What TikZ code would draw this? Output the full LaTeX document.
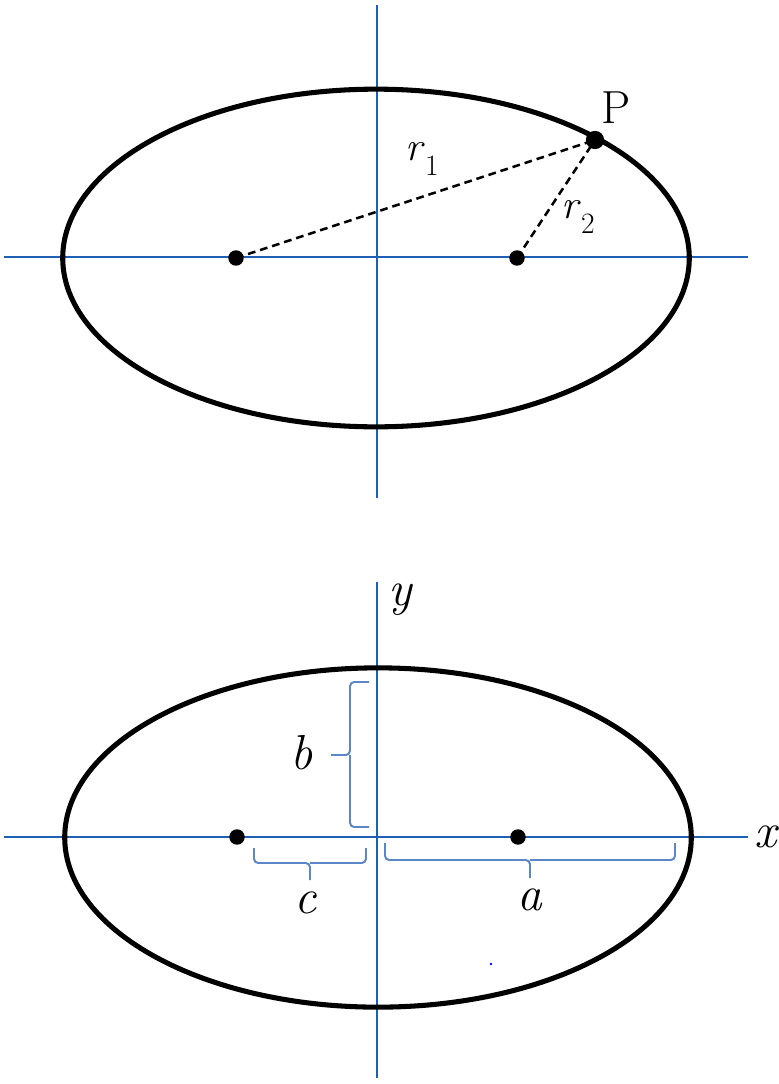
\documentclass[tikz,border=0pt]{standalone}
\usepackage{fontspec}
\usetikzlibrary{positioning}
\definecolor{axisblue}{HTML}{1F5FB4}
\definecolor{braceblue}{HTML}{5B87C8}
\tikzset{
  axis/.style={axisblue, line width=1.5pt},
  curve/.style={black, line width=3.6pt},
  radius line/.style={dash pattern=on 5.5pt off 3.5pt, line width=1.8pt},
  brace/.style={braceblue, line width=1.4pt, rounded corners=3pt},
  lbl/.style={font=\fontsize{35}{40}\selectfont\itshape, inner sep=0pt},
  sublbl/.style={font=\fontsize{29}{33}\selectfont, inner sep=0pt},
}
\newcommand{\subone}[1]{\emph{r}\raisebox{-0.35em}{\fontsize{21}{23}\selectfont #1}}
\begin{document}
\begin{tikzpicture}[x=0.025cm, y=-0.025cm]
\useasboundingbox (0,0) rectangle (778,1084);

% upper ellipse
\draw[axis] (4,257) -- (748,257); % major axis
\draw[axis] (377,5) -- (377,498); % minor axis
\draw[curve] (376,258) ellipse [x radius=7.83cm, y radius=4.22cm]; % ellipse

\coordinate (F1) at (236,258); % left focus
\coordinate (F2) at (517,258); % right focus
\coordinate (P) at (595,140); % point P
\draw[radius line] (F1) -- (P); % r1
\draw[radius line] (F2) -- (P); % r2
\fill (F1) circle [radius=5.5pt];
\fill (F2) circle [radius=5.5pt];
\fill (P) circle [radius=6.5pt];

\node[lbl, font=\fontsize{33}{38}\selectfont] (Plbl) at (616,108) {P}; % P's label
\node[sublbl] (rone) at (422,159) {\subone{1}}; % r1's label
\node[sublbl] (rtwo) at (578,217) {\subone{2}}; % r2's label

% lower ellipse
\draw[axis] (4,837) -- (748,837); % x axis
\draw[axis] (377,582) -- (377,1078); % y axis
\draw[curve] (378,837.5) ellipse [x radius=7.83cm, y radius=4.24cm]; % ellipse

\coordinate (G1) at (237,837); % left focus
\coordinate (G2) at (518,837); % right focus
\fill (G1) circle [radius=5.5pt];
\fill (G2) circle [radius=5.5pt];

\draw[brace] (369,682) -- (350,682) -- (350,755) -- (331,755); % brace b (top)
\draw[brace] (350,755) -- (350,827) -- (369,827); % brace b (bottom)
\draw[brace] (254,848) -- (254,863) -- (310,863) -- (310,880); % brace c (left)
\draw[brace] (310,863) -- (366,863) -- (366,848); % brace c (right)
\draw[brace] (385,843) -- (385,860) -- (530,860) -- (530,878); % brace a (left)
\draw[brace] (530,860) -- (675,860) -- (675,843); % brace a (right)

\node[lbl] (ylbl) at (400,600) {y}; % y's label
\node[lbl] (xlbl) at (766,837) {x}; % x's label
\node[lbl] (blbl) at (302,753) {b}; % b's label
\node[lbl] (clbl) at (306,903) {c}; % c's label
\node[lbl] (albl) at (530,900) {a}; % a's label

\fill[blue] (491,964) circle [radius=1pt]; % stray dot
\end{tikzpicture}
\end{document}
